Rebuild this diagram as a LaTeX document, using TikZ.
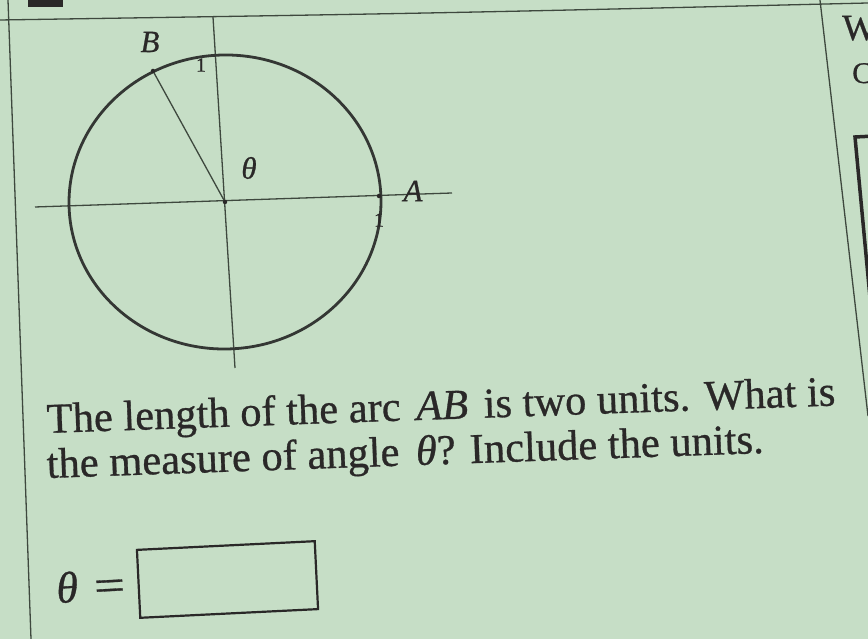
\documentclass[tikz,border=0pt]{standalone}
\usepackage{fontspec}
\setmainfont{Liberation Serif}
\newfontfamily\heavy{Liberation Serif}[FakeBold=0.7]
\definecolor{paper}{RGB}{198,222,198}
\definecolor{ink}{RGB}{42,40,40}
\definecolor{rulec}{RGB}{62,72,62}
\definecolor{circc}{RGB}{52,55,52}
\tikzset{
  frameline/.style={rulec, line width=1.3pt},
  axisline/.style={rulec, line width=1.3pt},
  dotmark/.style={circle, fill=ink, inner sep=0pt, minimum size=4.5pt},
  lbl/.style={text=ink, inner sep=0pt, font=\fontsize{31}{36}\heavy\itshape},
  onelbl/.style={text=ink, inner sep=0pt, font=\fontsize{20}{22}\heavy},
  body/.style={text=ink, inner sep=0pt, anchor=base west, rotate=2, font=\fontsize{42.5}{48}\heavy}
}
\begin{document}
\begin{tikzpicture}[x=1pt,y=1pt]
\useasboundingbox (0,0) rectangle (868,639);
\fill[paper] (0,0) rectangle (868,639);
% frame lines
\draw[frameline] (0,619) .. controls (450,626) .. (868,636);
\draw[frameline] (8,639) -- (31,0);
\draw[frameline] (820,639) -- (868,223);
\fill[ink] (28,632) rectangle (63,641);
% right partial box and text
\draw[ink, line width=3.5pt] (875,503) -- (855,502) -- (872,320);
\node[text=ink, inner sep=0pt, anchor=base west, font=\fontsize{37}{40}\heavy] (W) at (842,599) {W};
\node[text=ink, inner sep=0pt, anchor=base west, font=\fontsize{30}{36}\heavy] (C) at (852,556) {C};
% unit circle
\coordinate (O) at (225,437);
\coordinate (B) at (153,568);
\coordinate (A) at (379,443);
\coordinate (xl) at (35,432);
\coordinate (xr) at (452,446);
\coordinate (yt) at (213,622);
\coordinate (yb) at (235,271);
\draw[axisline] (xl) -- (xr);
\draw[axisline] (yt) -- (yb);
\draw[circc, line width=2.8pt, rotate around={2:(O)}] (O) ellipse [x radius=156pt, y radius=147pt];
\draw[axisline] (O) -- (B);
\node[dotmark] (Od) at (O) {};
\node[dotmark] (Bd) at (B) {};
\node[dotmark] (Ad) at (A) {};
\node[lbl] (Bl) at (150,597) {B};
\node[lbl] (Al) at (413,448) {A};
\node[lbl] (th) at (249,471) {θ};
\node[onelbl] (one1) at (201,574) {1};
\node[onelbl] (one2) at (379,419) {1};
% question text
\node[body] (l1) at (47,206) {The length of the arc \hspace{5pt}\textit{AB}\hspace{5pt} is two units. What is};
\node[body] (l2) at (47,161) {the measure of angle \hspace{6pt}\textit{θ}? Include the units.};
\node[body, rotate=1, font=\fontsize{44}{48}\heavy] (eq) at (57,36) {\textit{θ}\hspace{16pt}\scalebox{1.25}[1]{=}};
\node[draw=ink, line width=2.2pt, rotate=2.8, minimum width=178pt, minimum height=68pt, inner sep=0pt] (ans) at (227.5,59.5) {};
\end{tikzpicture}
\end{document}
